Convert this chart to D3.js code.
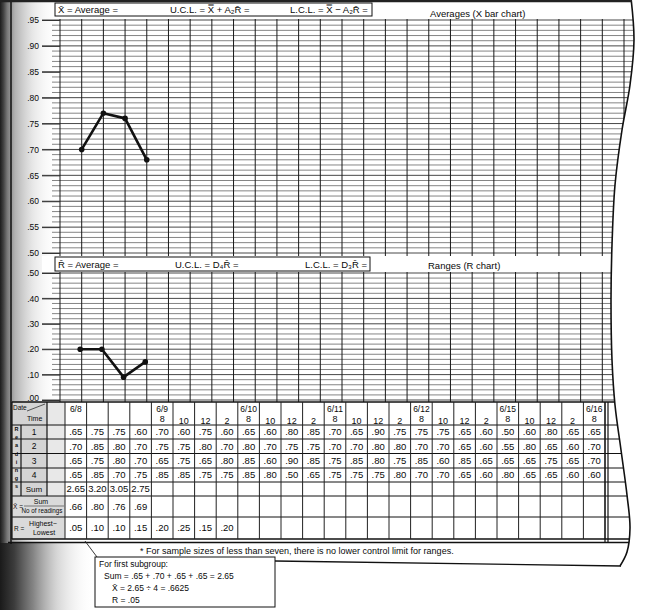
<!DOCTYPE html>
<html><head><meta charset="utf-8">
<script src="https://cdn.jsdelivr.net/npm/d3@7"></script>
<style>body{margin:0;background:#fff}svg{display:block}text{font-family:"Liberation Sans",Arial,sans-serif;fill:#0a0a0a}</style>
</head><body><svg id="c" width="652" height="610"></svg>
<script>
// ---------- data ----------
const dates=["6/8","","","","6/9","","","","6/10","","","","6/11","","","","6/12","","","","6/15","","","","6/16"];
const times=["","","","","8","10","12","2","8","10","12","2","8","10","12","2","8","10","12","2","8","10","12","2","8"];
const reading1=[.65,.75,.75,.60,.70,.60,.75,.60,.65,.60,.80,.85,.70,.65,.90,.75,.75,.75,.65,.60,.50,.60,.80,.65,.65];
const reading2=[.70,.85,.80,.70,.75,.75,.80,.70,.80,.70,.75,.75,.70,.70,.80,.80,.70,.70,.65,.60,.55,.80,.65,.60,.70];
const reading3=[.65,.75,.80,.70,.65,.75,.65,.80,.85,.60,.90,.85,.75,.85,.80,.75,.85,.60,.85,.65,.65,.65,.75,.65,.70];
const reading4=[.65,.85,.70,.75,.85,.85,.75,.75,.85,.80,.50,.65,.75,.75,.75,.80,.70,.70,.65,.60,.80,.65,.65,.60,.60];
const sums=[2.65,3.20,3.05,2.75];
const xbarRow=[.66,.80,.76,.69];
const rangeRow=[.05,.10,.10,.15,.20,.25,.15,.20];
const xbarPlotted=[.70,.77,.76,.68];
const rangePlotted=[.20,.20,.09,.15];
const xbarTicks=[.95,.90,.85,.80,.75,.70,.65,.60,.55,.50];
const rangeTicks=[.50,.40,.30,.20,.10,0];
const rowLabels=["1","2","3","4","Sum"];

const svg=d3.select("#c");
const fmt=d=>d3.format(".2f")(d).replace(/^0/,"");
svg.append("rect").attr("width",652).attr("height",610).attr("fill","#fff");

// ---------- left shadow (behind everything) ----------
const defs=svg.append("defs");
const g1=defs.append("linearGradient").attr("id","sh1");
[[0,"#1c1c1c",1],[0.06,"#444",1],[0.12,"#777",1],[0.25,"#aaa",0.9],[0.55,"#d8d8d8",0.6],[1,"#ffffff",0]].forEach(([o,c,a])=>g1.append("stop").attr("offset",o).attr("stop-color",c).attr("stop-opacity",a));
svg.append("rect").attr("x",0).attr("y",0).attr("width",60).attr("height",545).attr("fill","url(#sh1)");
const g2=defs.append("linearGradient").attr("id","sh2");
[[0,"#1a1a1a",1],[0.15,"#3c3c3c",1],[0.35,"#777",0.9],[0.6,"#bbb",0.6],[1,"#fff",0]].forEach(([o,c,a])=>g2.append("stop").attr("offset",o).attr("stop-color",c).attr("stop-opacity",a));
svg.append("rect").attr("x",0).attr("y",543).attr("width",95).attr("height",67).attr("fill","url(#sh2)");

// ---------- scales ----------
const xI=d3.scaleLinear().domain([0,26]).range([60,624]);
const yX=d3.scaleLinear().domain([.5,.95]).range([253,20]);
const yR=d3.scaleLinear().domain([0,.5]).range([400,273]);
const tx=d3.scaleBand().domain(d3.range(25)).range([65,605]);

// ---------- X bar grid ----------
const gX=svg.append("g");
d3.range(50,96).forEach(k=>{
  const v=k/100, major=k%5===0;
  gX.append("line").attr("x1",major?42:52).attr("x2",648).attr("y1",yX(v)).attr("y2",yX(v))
    .attr("stroke",major?"#333":"#666").attr("stroke-width",major?0.9:0.8);
});
d3.range(27).forEach(i=>{
  gX.append("line").attr("x1",xI(i)).attr("x2",xI(i)).attr("y1",yX(.95)-1).attr("y2",256)
    .attr("stroke","#1a1a1a").attr("stroke-width",1);
});
const axX=svg.append("g").attr("transform","translate(60,0)")
  .call(d3.axisLeft(yX).tickValues(xbarTicks).tickSize(18).tickPadding(3).tickFormat(fmt));
// ---------- R grid ----------
const gR=svg.append("g");
d3.range(0,51,2).forEach(k=>{
  const v=k/100, major=k%10===0;
  gR.append("line").attr("x1",major?42:52).attr("x2",648).attr("y1",yR(v)).attr("y2",yR(v))
    .attr("stroke",major?"#333":"#666").attr("stroke-width",major?0.9:0.8);
});
d3.range(27).forEach(i=>{
  gR.append("line").attr("x1",xI(i)).attr("x2",xI(i)).attr("y1",271).attr("y2",402)
    .attr("stroke","#1a1a1a").attr("stroke-width",1);
});

// ---------- header bands ----------
svg.append("rect").attr("x",55).attr("y",3).attr("width",317).attr("height",13).attr("fill","#fff").attr("stroke","#111").attr("stroke-width",1);
const hdr=(x,y,t,fs)=>svg.append("text").attr("x",x).attr("y",y).attr("font-size",fs||9.5).text(t);
hdr(58,13,"X\u0304 = Average =");
hdr(170,13,"U.C.L. = X\u033F + A\u2082R\u0304 =");
hdr(290,13,"L.C.L. = X\u033F \u2212 A\u2082R\u0304 =");
hdr(430,17,"Averages (X bar chart)");
svg.append("rect").attr("x",42).attr("y",256).attr("width",606).attr("height",16).attr("fill","#fff");
svg.append("rect").attr("x",55).attr("y",257).attr("width",315).attr("height",14).attr("fill","#fff").attr("stroke","#111").attr("stroke-width",1);
hdr(58,267.5,"R\u0304 = Average =");
hdr(175,267.5,"U.C.L. = D\u2084R\u0304 =");
hdr(305,267.5,"L.C.L. = D\u2083R\u0304 =");
hdr(428,269,"Ranges (R chart)");

// ---------- plotted lines ----------
const lineX=d3.line().x((d,i)=>xI(i+1)).y(d=>yX(d));
svg.append("path").attr("d",lineX(xbarPlotted)).attr("fill","none").attr("stroke","#111").attr("stroke-width",2.6).attr("stroke-linejoin","round");
svg.selectAll(".px").data(xbarPlotted).join("circle").attr("cx",(d,i)=>xI(i+1)).attr("cy",d=>yX(d)).attr("r",2.8).attr("fill","#111");
const lineR=d3.line().x((d,i)=>xI(i+1)-1.5).y(d=>yR(d));
svg.append("path").attr("d",lineR(rangePlotted)).attr("fill","none").attr("stroke","#111").attr("stroke-width",2.6).attr("stroke-linejoin","round");
svg.selectAll(".pr").data(rangePlotted).join("circle").attr("cx",(d,i)=>xI(i+1)-1.5).attr("cy",d=>yR(d)).attr("r",2.8).attr("fill","#111");

// ---------- table ----------
const rowsY=[402,425,439,453.5,468,482,496,517,539];
const T=svg.append("g");
T.append("rect").attr("x",12).attr("y",402).attr("width",605-12).attr("height",137).attr("fill","#fff");
T.append("rect").attr("x",12).attr("y",402).attr("width",35).attr("height",94).attr("fill","#d4d4d4");
T.append("rect").attr("x",12).attr("y",496).attr("width",53).attr("height",43).attr("fill","#dadada");
T.append("rect").attr("x",47).attr("y",402).attr("width",18).attr("height",94).attr("fill","#e8e8e8");
rowsY.forEach((y,i)=>{
  T.append("line").attr("x1",12).attr("x2",648).attr("y1",y).attr("y2",y)
   .attr("stroke","#111").attr("stroke-width",(i===0||i===8)?1.6:1);
});
T.append("line").attr("x1",8).attr("x2",648).attr("y1",542.5).attr("y2",542.5).attr("stroke","#111").attr("stroke-width",1.3);
d3.range(26).forEach(k=>{
  const x=65+k*tx.bandwidth();
  T.append("line").attr("x1",x).attr("x2",x).attr("y1",402).attr("y2",539).attr("stroke","#222").attr("stroke-width",1);
});
[[12,402,539],[21,425,496],[47,402,496],[605,402,542],[608,402,542]].forEach(([x,a,b])=>
  T.append("line").attr("x1",x).attr("x2",x).attr("y1",a).attr("y2",b).attr("stroke","#111").attr("stroke-width",1.2));
// header row
T.selectAll(".dt").data(dates).join("text").attr("x",(d,i)=>tx(i)+tx.bandwidth()/2).attr("y",411.5)
  .attr("text-anchor","middle").attr("font-size",8.5).text(d=>d);
T.selectAll(".tm").data(times).join("text").attr("x",(d,i)=>tx(i)+tx.bandwidth()/2).attr("y",(d,i)=>dates[i]?421.5:423.5)
  .attr("text-anchor","middle").attr("font-size",9).text(d=>d);
T.append("text").attr("x",13).attr("y",410).attr("font-size",6.5).text("Date");
T.append("text").attr("x",27).attr("y",421).attr("font-size",7).text("Time");
T.append("line").attr("x1",27).attr("x2",45).attr("y1",411).attr("y2",404).attr("stroke","#333").attr("stroke-width",0.8);
// reading rows
[reading1,reading2,reading3,reading4].forEach((arr,r)=>{
  const cy=(rowsY[r+1]+rowsY[r+2])/2+3.4;
  T.selectAll(".r"+r).data(arr).join("text").attr("x",(d,i)=>tx(i)+tx.bandwidth()/2).attr("y",cy)
   .attr("text-anchor","middle").attr("font-size",9.5).text(fmt);
});
rowLabels.forEach((t,r)=>{
  T.append("text").attr("x",34).attr("y",(rowsY[r+1]+rowsY[r+2])/2+3).attr("text-anchor","middle").attr("font-size",t==="Sum"?8:8.5).text(t);
});
"Readings".split("").forEach((c,i)=>T.append("text").attr("x",16.5).attr("y",431+i*8.2).attr("text-anchor","middle").attr("font-size",5.5).attr("font-weight","bold").text(c));
T.selectAll(".sm").data(sums).join("text").attr("x",(d,i)=>tx(i)+tx.bandwidth()/2).attr("y",(rowsY[5]+rowsY[6])/2+3.4)
  .attr("text-anchor","middle").attr("font-size",9.5).text(d=>d3.format(".2f")(d));
T.selectAll(".xb").data(xbarRow).join("text").attr("x",(d,i)=>tx(i)+tx.bandwidth()/2).attr("y",(rowsY[6]+rowsY[7])/2+3.4)
  .attr("text-anchor","middle").attr("font-size",9.5).text(fmt);
T.selectAll(".rg").data(rangeRow).join("text").attr("x",(d,i)=>tx(i)+tx.bandwidth()/2).attr("y",(rowsY[7]+rowsY[8])/2+3.4)
  .attr("text-anchor","middle").attr("font-size",9.5).text(fmt);
T.append("text").attr("x",13).attr("y",509).attr("font-size",6.5).text("X\u0304 =");
T.append("text").attr("x",41).attr("y",504).attr("text-anchor","middle").attr("font-size",7).text("Sum");
T.append("line").attr("x1",24).attr("x2",64).attr("y1",506).attr("y2",506).attr("stroke","#333").attr("stroke-width",0.6);
T.append("text").attr("x",42).attr("y",513).attr("text-anchor","middle").attr("font-size",6.3).text("No of readings");
T.append("text").attr("x",14).attr("y",531).attr("font-size",6.5).text("R =");
T.append("text").attr("x",43).attr("y",526).attr("text-anchor","middle").attr("font-size",7).text("Highest\u2212");
T.append("text").attr("x",44).attr("y",535).attr("text-anchor","middle").attr("font-size",7).text("Lowest");

// ---------- R axis labels (drawn after the table so .00 stays visible) ----------
const axR=svg.append("g").attr("transform","translate(60,0)")
  .call(d3.axisLeft(yR).tickValues(rangeTicks).tickSize(18).tickPadding(3).tickFormat(fmt));
[axX,axR].forEach(a=>{
  a.select(".domain").remove();
  a.selectAll("line").attr("stroke","#333");
  a.selectAll("text").attr("font-size",8.5).attr("fill","#222").attr("font-family","Liberation Sans, Arial, sans-serif");
});
axR.selectAll(".tick").filter(d=>d===0).select("text").attr("dy","0.1em");

// ---------- footnote & box ----------
svg.append("text").attr("x",140).attr("y",554).attr("font-size",9).text("* For sample sizes of less than seven, there is no lower control limit for ranges.");
svg.append("line").attr("x1",85).attr("y1",541).attr("x2",97).attr("y2",557).attr("stroke","#222").attr("stroke-width",0.9);
svg.append("line").attr("x1",275).attr("y1",561).attr("x2",621).attr("y2",566).attr("stroke","#111").attr("stroke-width",1.3);
svg.append("rect").attr("x",95).attr("y",557).attr("width",180).attr("height",50).attr("fill","#fff").attr("stroke","#111").attr("stroke-width",1);
[["For first subgroup:",99,567],["Sum = .65 + .70 + .65 + .65 = 2.65",104,579],["X\u0304 = 2.65 \u00F7 4 = .6625",112,591],["R = .05",112,603]]
  .forEach(([t,x,y])=>svg.append("text").attr("x",x).attr("y",y).attr("font-size",8.5).text(t));

// ---------- right wavy page edge ----------
const wave=[[631,-2],[634,40],[630,85],[622,130],[615,185],[612,245],[611,300],[612,360],[615,405],[621,450],[627,495],[630,528],[627,552],[620,566]];
const curve=d3.line().curve(d3.curveCatmullRom);
svg.append("path").attr("d",curve(wave)+"L652,566L652,-2Z").attr("fill","#fff");
svg.append("path").attr("d",curve(wave)).attr("fill","none").attr("stroke","#111").attr("stroke-width",1.6);

// ---------- frame ----------
svg.append("line").attr("x1",11).attr("x2",11).attr("y1",0).attr("y2",544).attr("stroke","#111").attr("stroke-width",1.5);
svg.append("line").attr("x1",0).attr("x2",632).attr("y1",1).attr("y2",1).attr("stroke","#222").attr("stroke-width",2.5);
</script></body></html>
